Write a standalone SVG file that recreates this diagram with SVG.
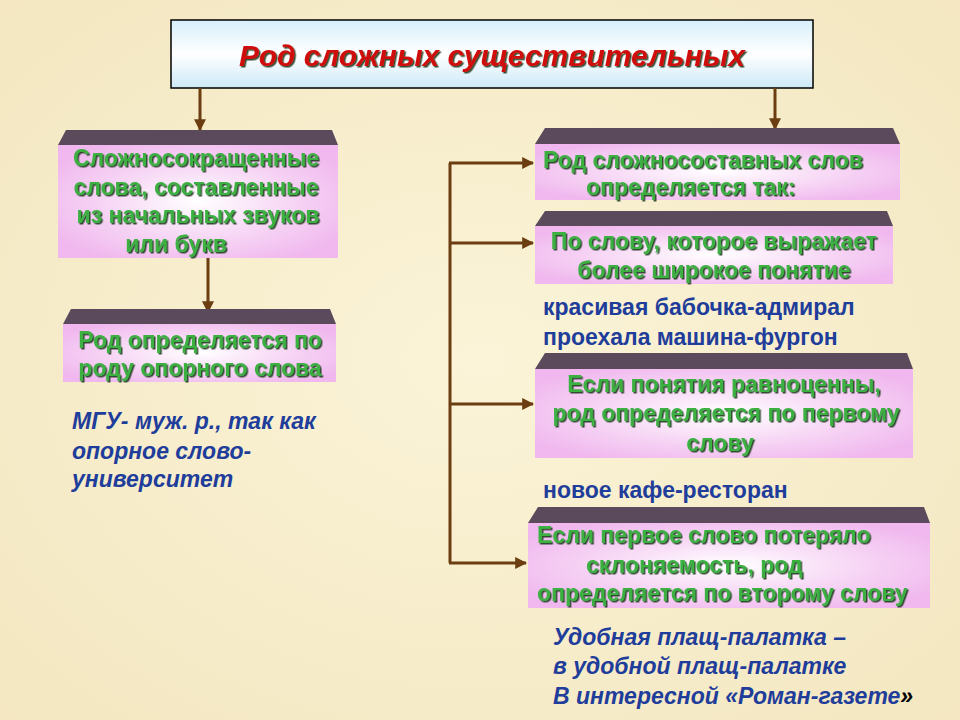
<svg xmlns="http://www.w3.org/2000/svg" width="960" height="720" viewBox="0 0 960 720">
<defs>
<radialGradient id="pk" cx="50%" cy="50%" r="60%"><stop offset="0" stop-color="#ffffff"/><stop offset="0.6" stop-color="#f6d2f4"/><stop offset="1" stop-color="#f0b8ee"/></radialGradient>
<linearGradient id="bl" x1="0" y1="0" x2="0" y2="1"><stop offset="0" stop-color="#d6eefa"/><stop offset="0.5" stop-color="#ffffff"/><stop offset="1" stop-color="#cde9f7"/></linearGradient>
<radialGradient id="bg" cx="50%" cy="50%" r="75%"><stop offset="0" stop-color="#fbf4d8"/><stop offset="1" stop-color="#f3e6bf"/></radialGradient>
<marker id="ar" viewBox="0 0 10 10" refX="9" refY="5" markerWidth="4" markerHeight="4" orient="auto"><path d="M0,0L10,5L0,10z" fill="#6b3d10"/></marker>
<filter id="sh" x="-5%" y="-20%" width="110%" height="150%"><feDropShadow dx="1.5" dy="1.5" stdDeviation="0.3" flood-color="#1a3a1a" flood-opacity="0.9"/></filter>
</defs>
<style>
.band{fill:#5b4a5c}
.box{fill:url(#pk)}
.g{font-family:"Liberation Sans",Arial,sans-serif;font-weight:bold;font-size:23px;fill:#3cb043;filter:url(#sh)}
.b{font-family:"Liberation Sans",Arial,sans-serif;font-weight:bold;font-style:italic;font-size:23px;fill:#1f3d9a}
.n{font-family:"Liberation Sans",Arial,sans-serif;font-weight:bold;font-size:23px;fill:#1f3d9a}
.c{stroke:#6b3d10;stroke-width:3;fill:none}
</style>
<rect width="960" height="720" fill="url(#bg)"/>
<g id="title"><rect x="171" y="20" width="642" height="68" fill="url(#bl)" stroke="#000" stroke-width="1.5"/>
<text x="492" y="66" text-anchor="middle" font-family="Liberation Sans,Arial,sans-serif" font-weight="bold" font-style="italic" font-size="30" fill="#d01010" filter="url(#sh)">Род сложных существительных</text></g>
<g id="connectors">
<line class="c" x1="200" y1="88" x2="200" y2="130" marker-end="url(#ar)"/>
<line class="c" x1="775" y1="88" x2="775" y2="129" marker-end="url(#ar)"/>
<line class="c" x1="208" y1="258" x2="208" y2="312" marker-end="url(#ar)"/>
<line class="c" x1="450" y1="163" x2="450" y2="563"/>
<line class="c" x1="449" y1="163" x2="533" y2="163" marker-end="url(#ar)"/>
<line class="c" x1="449" y1="243" x2="533" y2="243" marker-end="url(#ar)"/>
<line class="c" x1="449" y1="404" x2="533" y2="404" marker-end="url(#ar)"/>
<line class="c" x1="449" y1="563" x2="526" y2="563" marker-end="url(#ar)"/>
</g>
<g id="n1"><path class="band" d="M66,130H332L338,145H58z"/><rect class="box" x="58" y="145" width="280" height="113"/>
<text class="g" x="196" y="166" text-anchor="middle">Сложносокращенные</text>
<text class="g" x="196" y="195" text-anchor="middle">слова, составленные</text>
<text class="g" x="198" y="223" text-anchor="middle">из начальных  звуков</text>
<text class="g" x="176" y="252" text-anchor="middle">или букв</text></g>
<g id="n2"><path class="band" d="M71,309H330L336,324H63z"/><rect class="box" x="63" y="324" width="273" height="58"/>
<text class="g" x="200" y="348" text-anchor="middle">Род определяется по</text>
<text class="g" x="200" y="376" text-anchor="middle">роду опорного слова</text></g>
<g id="t1"><text class="b" x="72" y="429">МГУ- муж. р., так как</text><text class="b" x="72" y="459">опорное слово-</text><text class="b" x="72" y="487">университет</text></g>
<g id="r1"><path class="band" d="M545,128H893L900,144H535z"/><rect class="box" x="535" y="144" width="365" height="56"/>
<text class="g" x="543" y="168">Род  сложносоставных  слов</text>
<text class="g" x="586" y="195">определяется  так:</text></g>
<g id="r2"><path class="band" d="M545,211H887L893,226H535z"/><rect class="box" x="535" y="226" width="358" height="58"/>
<text class="g" x="714" y="249" text-anchor="middle">По слову, которое выражает</text>
<text class="g" x="714" y="278" text-anchor="middle">более широкое понятие</text></g>
<g id="t2"><text class="n" x="543" y="315">красивая бабочка-адмирал</text><text class="n" x="543" y="345">проехала машина-фургон</text></g>
<g id="r3"><path class="band" d="M545,353H907L913,369H535z"/><rect class="box" x="535" y="369" width="378" height="89"/>
<text class="g" x="724" y="392" text-anchor="middle">Если  понятия  равноценны,</text>
<text class="g" x="726" y="421" text-anchor="middle">род определяется по первому</text>
<text class="g" x="720" y="451" text-anchor="middle">слову</text></g>
<g id="t3"><text class="n" x="543" y="498">новое кафе-ресторан</text></g>
<g id="r4"><path class="band" d="M538,507H924L930,523H528z"/><rect class="box" x="528" y="523" width="402" height="85"/>
<text class="g" x="537" y="543">Если первое слово потеряло</text>
<text class="g" x="586" y="573">склоняемость, род</text>
<text class="g" x="537" y="601">определяется по второму слову</text></g>
<g id="t4"><text class="b" x="553" y="645">Удобная плащ-палатка –</text><text class="b" x="553" y="674">в удобной плащ-палатке</text>
<text class="b" x="553" y="704">В интересной «Роман-газете<tspan fill="#000">»</tspan></text></g>
</svg>
